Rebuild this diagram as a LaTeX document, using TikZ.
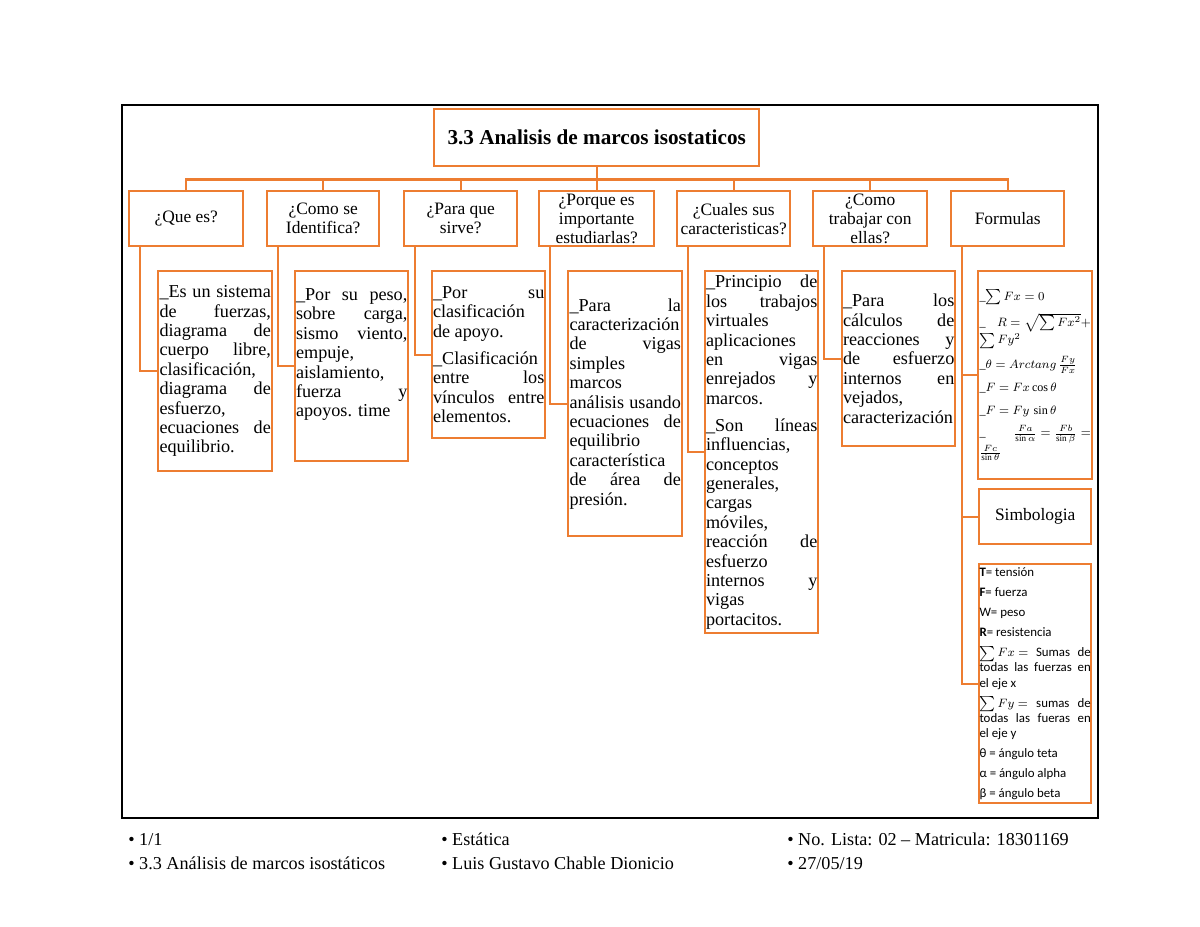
\documentclass[tikz,border=0pt]{standalone}
\usepackage{fontspec}
\setmainfont{Liberation Serif}
\newfontfamily\symfont{Carlito}
\definecolor{boxorange}{RGB}{237,125,49}
\newcommand\pxu{0.66pt}
\hyphenpenalty=10000
\exhyphenpenalty=10000
\hbadness=10000
\tolerance=10000

\tikzset{
  orangebox/.style={draw=boxorange, line width=1.6pt, inner sep=0pt, anchor=north west},
  titlebox/.style={orangebox, font=\fontsize{14}{16}\selectfont\bfseries},
  headbox/.style={orangebox, align=center, minimum height=55*\pxu,
    font=\fontsize{11.5}{12.5}\selectfont},
  detailbox/.style={orangebox, text width=73.5pt, align=justify,
    font=\fontsize{12}{12.8}\selectfont,
    execute at begin node={\setlength{\parindent}{0pt}\setlength{\parskip}{5pt}}},
  formulabox/.style={detailbox, font=\fontsize{8}{10.5}\selectfont,
    execute at begin node={\setlength{\parindent}{0pt}\setlength{\parskip}{4.5pt}%
      \thickmuskip=5mu\medmuskip=4mu}},
  symbox/.style={detailbox, font=\symfont\fontsize{8.5}{10}\selectfont,
    execute at begin node={\setlength{\parindent}{0pt}\setlength{\parskip}{3.3pt}%
      \thickmuskip=5mu}},
  link/.style={draw=boxorange, line width=1.6pt},
  footer/.style={anchor=base west, inner sep=0pt, font=\fontsize{12}{14}\selectfont}
}

\begin{document}
\begin{tikzpicture}[x=0.66pt, y=-0.66pt]
\useasboundingbox (0,0) rectangle (1200,927);

% Page frame
\draw[black, line width=1pt] (122,105) rectangle (1098,818);

% Title
\node[titlebox, minimum width=325*\pxu, minimum height=57*\pxu] (title) at (433,108)
  {3.3 Analisis de marcos isostaticos};

% Questions
\node[headbox, minimum width=114*\pxu] (q1) at (128,190) {¿Que es?};
\node[headbox, minimum width=112*\pxu] (q2) at (266,190) {¿Como se\\Identifica?};
\node[headbox, minimum width=113*\pxu] (q3) at (403,190) {¿Para que\\sirve?};
\node[headbox, minimum width=115*\pxu] (q4) at (538,190) {¿Porque es\\importante\\estudiarlas?};
\node[headbox, minimum width=113*\pxu] (q5) at (676,190) {¿Cuales sus\\caracteristicas?};
\node[headbox, minimum width=114*\pxu] (q6) at (812,190) {¿Como\\trabajar con\\ellas?};
\node[headbox, minimum width=113*\pxu] (q7) at (950,190) {Formulas};

\foreach \q in {q1,q2,q3,q4,q5,q6,q7}
  \draw[link] (title.south) -- ++(0,12) -| (\q.north);

% Answers
\node[detailbox, minimum width=114*\pxu, minimum height=200*\pxu] (d1) at (157,270)
  {\_Es un sistema\linebreak de fuerzas,\linebreak diagrama de\linebreak cuerpo libre,\linebreak
   clasificación,\linebreak diagrama de\linebreak esfuerzo,\linebreak ecuaciones de\linebreak equilibrio.};
\node[detailbox, minimum width=113*\pxu, minimum height=190*\pxu] (d2) at (294,270)
  {\_Por su peso,\linebreak sobre carga,\linebreak sismo viento,\linebreak empuje,\linebreak
   aislamiento,\linebreak fuerza y\linebreak apoyos. time\par\mbox{}};
\node[detailbox, minimum width=113*\pxu, minimum height=167*\pxu] (d3) at (431,270)
  {\_Por su\linebreak clasificación\linebreak de apoyo.\par
   \_Clasificación\linebreak entre los\linebreak vínculos entre\linebreak elementos.};
\node[detailbox, minimum width=114*\pxu, minimum height=265*\pxu] (d4) at (567,270)
  {\_Para la\linebreak caracterización\linebreak de vigas\linebreak simples\linebreak marcos\linebreak
   análisis usando\linebreak ecuaciones de\linebreak equilibrio\linebreak característica\linebreak
   de área de\linebreak presión.};
\node[detailbox, minimum width=113*\pxu, minimum height=362*\pxu] (d5) at (704,270)
  {\_Principio de\linebreak los trabajos\linebreak virtuales\linebreak aplicaciones\linebreak
   en vigas\linebreak enrejados y\linebreak marcos.\par
   \_Son líneas\linebreak influencias,\linebreak conceptos\linebreak generales,\linebreak cargas\linebreak
   móviles,\linebreak reacción de\linebreak esfuerzo\linebreak internos y\linebreak vigas\linebreak portacitos.};
\node[detailbox, minimum width=113*\pxu, minimum height=175*\pxu] (d6) at (841,270)
  {\_Para los\linebreak cálculos de\linebreak reacciones y\linebreak de esfuerzo\linebreak
   internos en\linebreak vejados,\linebreak caracterización};
\node[formulabox, minimum width=114*\pxu, minimum height=208*\pxu] (d7) at (977,270)
  {\_$\sum Fx=0$\par
   \_ $R=\sqrt{\sum Fx^2}+$\linebreak $\sum Fy^2$\par
   \_$\theta=Arctang\,\frac{Fy}{Fx}$\par
   \_$F=Fx\cos\theta$\par
   \_$F=Fy\,\sin\theta$\par
   \_ $\frac{Fa}{\sin\alpha}=\frac{Fb}{\sin\beta}=$\linebreak $\frac{Fc}{\sin\theta}$};

% Symbols
\node[headbox, minimum width=112*\pxu] (simb) at (978,488) {Simbologia};
\node[symbox, minimum width=112*\pxu, minimum height=239*\pxu] (sym) at (978,563)
  {\textbf{T}= tensión\par
   \textbf{F}= fuerza\par
   W= peso\par
   \textbf{R}= resistencia\par
   $\sum Fx=$ Sumas de\linebreak todas las fuerzas en\linebreak el eje x\par
   $\sum Fy=$ sumas de\linebreak todas las fueras en\linebreak el eje y\par
   θ = ángulo teta\par
   α = ángulo alpha\par
   β = ángulo beta};

% Links to the answers
\draw[link] ([xshift=8pt]q1.south west) |- (d1.west);
\draw[link] ([xshift=8pt]q2.south west) |- (d2.west);
\draw[link] ([xshift=8pt]q3.south west) |- (d3.west);
\draw[link] ([xshift=8pt]q4.south west) |- (d4.west);
\draw[link] ([xshift=8pt]q5.south west) |- (d5.west);
\draw[link] ([xshift=8pt]q6.south west) |- (d6.west);
\draw[link] ([xshift=8pt]q7.south west) |- (d7.west);
\draw[link] ([xshift=8pt]q7.south west) |- (simb.west);
\draw[link] ([xshift=8pt]q7.south west) |- (sym.west);

% Footer
\node[footer] (f1) at (128,845) {• 1/1};
\node[footer] (f2) at (128,869) {• 3.3 Análisis de marcos isostáticos};
\node[footer] (f3) at (441,845) {• Estática};
\node[footer] (f4) at (441,869) {• Luis Gustavo Chable Dionicio};
\node[footer] (f5) at (787,845) {• No. Lista: 02 – Matricula: 18301169};
\node[footer] (f6) at (787,869) {• 27/05/19};
\end{tikzpicture}
\end{document}
